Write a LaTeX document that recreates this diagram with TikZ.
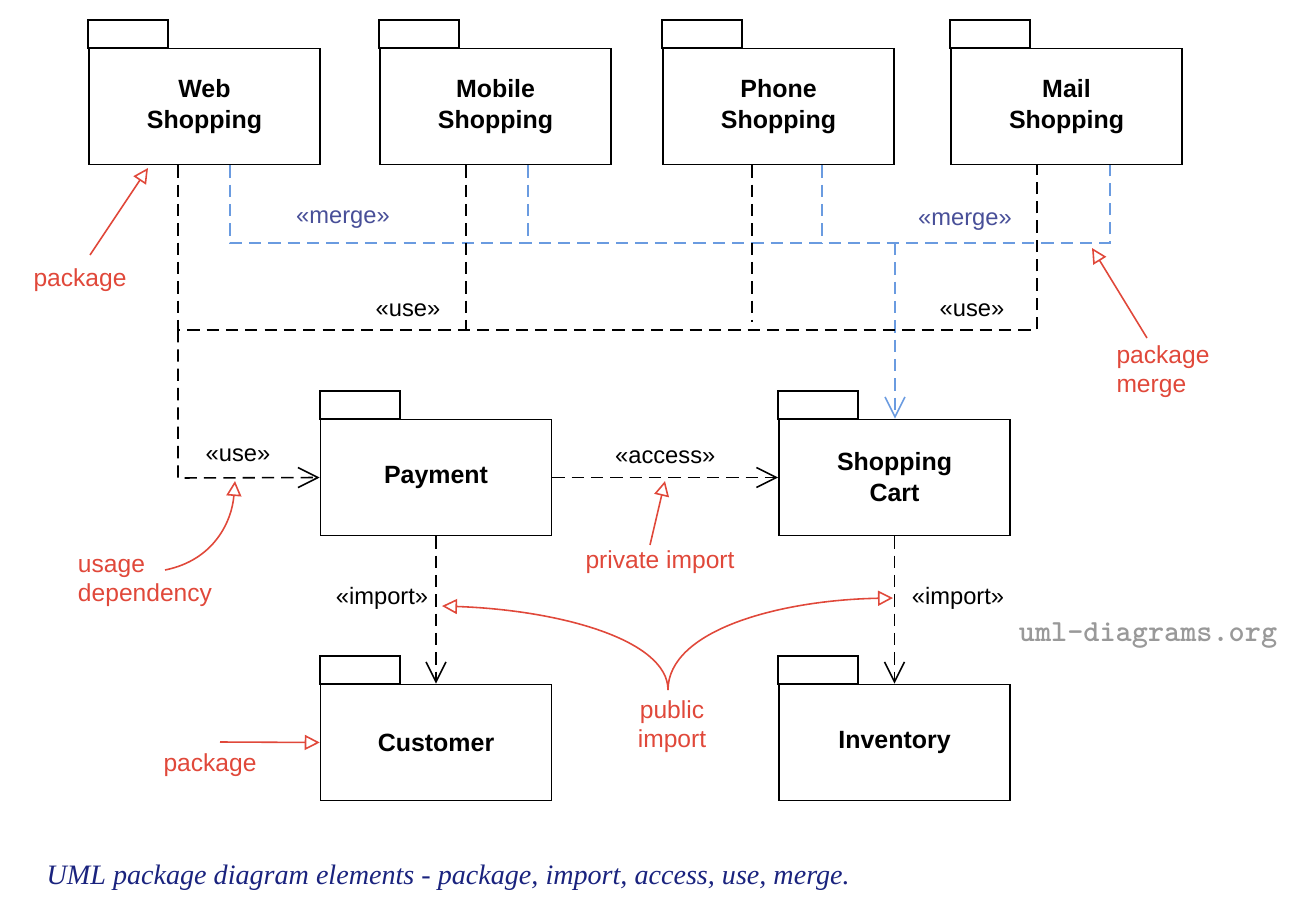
\documentclass[tikz,border=0pt]{standalone}
\usepackage{fontspec}
\setmainfont{Liberation Sans}
\newfontfamily\capfont{Liberation Serif}
\usetikzlibrary{arrows.meta,positioning,calc}
\definecolor{annot}{HTML}{E0483A}
\definecolor{mergeblue}{HTML}{6A9BE0}
\definecolor{captionblue}{HTML}{1A237E}
\tikzset{
  every picture/.append style={line width=0.9pt},
  pkg/.style={draw, minimum width=4.62cm, minimum height=2.32cm, align=center, inner sep=0pt,
    font=\fontsize{14.2}{17.6}\selectfont\bfseries},
  dep/.style={dashed, dash pattern=on 7pt off 4pt, -{Straight Barb[length=4mm,width=4mm]}},
  dline/.style={dashed, dash pattern=on 7pt off 4pt},
  mrg/.style={dline, color=mergeblue},
  stereo/.style={font=\fontsize{13.5}{16}\selectfont},
  note/.style={color=annot, font=\fontsize{14}{16.5}\selectfont, align=left},
  pointer/.style={annot, -{Triangle[open,length=3mm,width=3mm]}}
}
\newcommand{\pkgtab}[1]{\draw (#1.north west) rectangle ++(80,-28);}
\begin{document}
\begin{tikzpicture}[x=0.02cm, y=-0.02cm]
\useasboundingbox (0,0) rectangle (1306,922);

% Packages
\node[pkg] (web) at (204.5,106.5) {Web\\Shopping};
\node[pkg] (mobile) at (495.5,106.5) {Mobile\\Shopping};
\node[pkg] (phone) at (778.5,106.5) {Phone\\Shopping};
\node[pkg] (mail) at (1066.5,106.5) {Mail\\Shopping};
\node[pkg] (payment) at (436,477.5) {Payment};
\node[pkg] (cart) at (894.5,477.5) {Shopping\\Cart};
\node[pkg] (customer) at (436,742.5) {Customer};
\node[pkg] (inventory) at (894.5,742.5) {Inventory};
\foreach \p in {web,mobile,phone,mail,payment,cart,customer,inventory}{\pkgtab{\p}}

% Merge
\coordinate (mw) at (230,243);
\coordinate (mm) at (528,240);
\coordinate (mp) at (822,243);
\coordinate (ml) at (1110,243);
\coordinate (mj) at (895,243);
\draw[mrg] (web.south -| mw) -- (mw) -- (ml) -- (mail.south -| ml);
\draw[mrg] (mobile.south -| mm) -- (mm);
\draw[mrg] (phone.south -| mp) -- (mp);
\draw[mrg, -{Straight Barb[length=4mm,width=4mm]}] (mj) -- (cart.north -| mj);
\node[stereo, text=captionblue!80] (merge1) at (343,220) {«merge»};
\node[stereo, text=captionblue!80] (merge2) at (965,222) {«merge»};

% Use
\coordinate (uw) at (178,330);
\coordinate (um) at (466,330);
\coordinate (up) at (752,322);
\coordinate (ul) at (1037,330);
\coordinate (ub) at (178,478);
\draw[dline] (web.south -| uw) -- (uw) -- (ul) -- (mail.south -| ul);
\draw[dline] (mobile.south -| um) -- (um);
\draw[dline] (phone.south -| up) -- (up);
\draw[dep] (uw) -- (ub) -- (payment.west);
\node[stereo] (use1) at (408,310) {«use»};
\node[stereo] (use2) at (972,310) {«use»};
\node[stereo] (use3) at (238,455) {«use»};

% Access and import
\draw[dep] (payment) -- node[stereo, above=4pt] (access) {«access»} (cart);
\draw[dep] (payment) -- (customer);
\draw[dep] (cart) -- (inventory);
\node[stereo] (imp1) at (382,598) {«import»};
\node[stereo] (imp2) at (958,598) {«import»};

% Annotations
\node[note] (n1) at (80,280) {package};
\draw[pointer] (90,255) -- (148,168);
\node[note] (n2) at (1163,372) {package\\merge};
\draw[pointer] (1147,338) -- (1092,248);
\node[note] (n3) at (145,583) {usage\\dependency};
\draw[pointer] (165,570) .. controls (215,560) and (232,520) .. (235,481);
\node[note] (n4) at (660,562) {private import};
\draw[pointer] (650,545) -- (665,481);
\node[note, align=center] (n5) at (672,727) {public\\import};
\draw[pointer] (668,690) .. controls (668,640) and (560,610) .. (442,606);
\draw[pointer] (668,690) .. controls (668,630) and (780,600) .. (893,598);
\node[note] (n6) at (210,765) {package};
\draw[pointer] (220,742) -- (customer.west);

% Watermark and caption
\node[text=gray!80, font=\fontsize{17.5}{20}\selectfont\bfseries\ttfamily] (wm) at (1148,636) {uml-diagrams.org};
\node[text=captionblue, font=\capfont\itshape\fontsize{16}{19}\selectfont, anchor=west] (cap) at (40,878)
  {UML package diagram elements - package, import, access, use, merge.};
\end{tikzpicture}
\end{document}
